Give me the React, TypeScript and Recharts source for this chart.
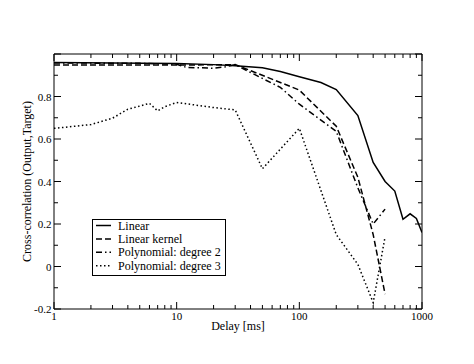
import React from 'react';
import { LineChart, Line, XAxis, YAxis, Legend } from 'recharts';

const linearX = [1, 3, 10, 20, 30, 50, 70, 100, 150, 200, 300, 400, 500, 600, 700, 800, 900, 1000];
const linearY = [0.96, 0.958, 0.955, 0.95, 0.945, 0.935, 0.918, 0.893, 0.866, 0.833, 0.71, 0.49, 0.4, 0.355, 0.222, 0.248, 0.226, 0.16];

const kernelX = [1, 10, 30, 40, 70, 100, 200, 300, 400, 500];
const kernelY = [0.948, 0.948, 0.95, 0.922, 0.866, 0.83, 0.66, 0.42, 0.15, -0.13];

const poly2X = [1, 5, 10, 12, 20, 25, 30, 50, 70, 100, 200, 300, 400, 500];
const poly2Y = [0.958, 0.956, 0.952, 0.937, 0.933, 0.94, 0.95, 0.885, 0.843, 0.764, 0.636, 0.37, 0.2, 0.27];

const poly3X = [1, 2, 3, 4, 5, 6, 7, 8, 10, 20, 30, 50, 100, 200, 300, 400, 500];
const poly3Y = [0.65, 0.668, 0.698, 0.74, 0.755, 0.768, 0.732, 0.752, 0.772, 0.748, 0.737, 0.46, 0.65, 0.15, 0.01, -0.17, 0.14];

const seriesNames = ['Linear', 'Linear kernel', 'Polynomial: degree 2', 'Polynomial: degree 3'];

const xTicks = [1, 2, 3, 4, 5, 6, 7, 8, 9, 10, 20, 30, 40, 50, 60, 70, 80, 90, 100, 200, 300, 400, 500, 600, 700, 800, 900, 1000];
const xLabeled = [1, 10, 100, 1000];
const yTicks = [-0.2, -0.1, 0, 0.1, 0.2, 0.3, 0.4, 0.5, 0.6, 0.7, 0.8, 0.9, 1.0];
const yLabeled = [-0.2, 0, 0.2, 0.4, 0.6, 0.8];

const toPoints = (xs: number[], ys: number[]) => xs.map((x, i) => ({ x, y: ys[i] }));

const FONT = 'Liberation Serif, Times New Roman, serif';
const txtStyle: React.CSSProperties = { fontFamily: FONT };
const dashes = [undefined, '6 3', '6 3 1.5 3', '1.5 2.5'];

const isXMajor = (v: number) => xLabeled.some((t) => Math.abs(t - v) < 1e-9);
const yLabelOf = (v: number) => yLabeled.find((t) => Math.abs(t - v) < 1e-9);
const isYMajor = (v: number) => yLabeled.some((t) => Math.abs(t - v) < 1e-9) || Math.abs(v - 1) < 1e-9;

const BottomTick = (props: any) => {
  const { x, y, payload } = props;
  const major = isXMajor(payload.value);
  return (
    <g>
      <line x1={x} x2={x} y1={y} y2={y - (major ? 7 : 4)} stroke="#000" strokeWidth={1} />
      {major && (
        <text x={x} y={y + 11} textAnchor="middle" fontSize={11} style={txtStyle} fill="#000">
          {payload.value}
        </text>
      )}
    </g>
  );
};

const TopTick = (props: any) => {
  const { x, y, payload } = props;
  const major = isXMajor(payload.value);
  return <line x1={x} x2={x} y1={y} y2={y + (major ? 7 : 4)} stroke="#000" strokeWidth={1} />;
};

const LeftTick = (props: any) => {
  const { x, y, payload } = props;
  const major = isYMajor(payload.value);
  const lab = yLabelOf(payload.value);
  return (
    <g>
      <line x1={x} x2={x + (major ? 7 : 4)} y1={y} y2={y} stroke="#000" strokeWidth={1} />
      {lab !== undefined && (
        <text x={x - 2.5} y={y + 4} textAnchor="end" fontSize={11} style={txtStyle} fill="#000">
          {String(lab)}
        </text>
      )}
    </g>
  );
};

const RightTick = (props: any) => {
  const { x, y, payload } = props;
  const major = isYMajor(payload.value);
  return <line x1={x} x2={x - (major ? 7 : 4)} y1={y} y2={y} stroke="#000" strokeWidth={1} />;
};

const LegendBox = () => (
  <svg width={134} height={57} style={{ display: 'block' }}>
    <rect x={0.5} y={0.5} width={133} height={56} fill="#fff" stroke="#000" strokeWidth={1} />
    {seriesNames.map((n, i) => (
      <g key={n}>
        <line x1={4} x2={19} y1={6.5 + i * 13.4} y2={6.5 + i * 13.4} stroke="#000" strokeWidth={1.5} strokeDasharray={dashes[i]} />
        <text x={26} y={10.5 + i * 13.4} fontSize={12} style={txtStyle} fill="#000">
          {n}
        </text>
      </g>
    ))}
  </svg>
);

const XLabel = (props: any) => {
  const vb = props.viewBox;
  return (
    <text x={vb.x + vb.width / 2} y={vb.y + 21} textAnchor="middle" fontSize={12} style={txtStyle} fill="#000">
      Delay [ms]
    </text>
  );
};

const YLabel = (props: any) => {
  const vb = props.viewBox;
  const cx = 23;
  const cy = vb.y + vb.height / 2;
  return (
    <text x={cx} y={cy} transform={`rotate(-90 ${cx} ${cy})`} textAnchor="middle" fontSize={12} style={txtStyle} fill="#000">
      Cross-correlation (Output,Target)
    </text>
  );
};

const seriesData = [
  toPoints(linearX, linearY),
  toPoints(kernelX, kernelY),
  toPoints(poly2X, poly2Y),
  toPoints(poly3X, poly3Y),
];

export default function App() {
  return (
    <div style={{ width: 466, height: 356, fontFamily: FONT }}>
      <LineChart width={466} height={356} margin={{ top: 36, right: 42, bottom: 25, left: 6 }}>
        <XAxis
          dataKey="x"
          type="number"
          scale="log"
          domain={[1, 1000]}
          allowDataOverflow
          ticks={xTicks}
          interval={0}
          tickSize={0}
          tickMargin={0}
          tickLine={false}
          tick={<BottomTick />}
          height={30}
          axisLine={{ stroke: '#000', strokeWidth: 1 }}
          label={<XLabel />}
        />
        <XAxis
          xAxisId="top"
          orientation="top"
          dataKey="x"
          type="number"
          scale="log"
          domain={[1, 1000]}
          allowDataOverflow
          ticks={xTicks}
          interval={0}
          tickSize={0}
          tickMargin={0}
          tickLine={false}
          tick={<TopTick />}
          height={10}
          axisLine={{ stroke: '#000', strokeWidth: 1 }}
        />
        <YAxis
          type="number"
          domain={[-0.2, 1.0]}
          allowDataOverflow
          ticks={yTicks}
          interval={0}
          tickSize={0}
          tickMargin={0}
          tickLine={false}
          tick={<LeftTick />}
          width={40}
          axisLine={{ stroke: '#000', strokeWidth: 1 }}
          label={<YLabel />}
        />
        <YAxis
          yAxisId="right"
          orientation="right"
          type="number"
          domain={[-0.2, 1.0]}
          allowDataOverflow
          ticks={yTicks}
          interval={0}
          tickSize={0}
          tickMargin={0}
          tickLine={false}
          tick={<RightTick />}
          width={10}
          axisLine={{ stroke: '#000', strokeWidth: 1 }}
        />
        <Legend
          layout="vertical"
          align="center"
          verticalAlign="middle"
          content={() => <LegendBox />}
          wrapperStyle={{ left: 83.7, top: 211, width: 134, height: 57 }}
        />
        {seriesData.map((d, i) => (
          <Line
            key={seriesNames[i]}
            name={seriesNames[i]}
            data={d}
            dataKey="y"
            stroke="#000"
            strokeWidth={1.5}
            strokeDasharray={dashes[i]}
            dot={false}
            activeDot={false}
            isAnimationActive={false}
          />
        ))}
      </LineChart>
    </div>
  );
}
